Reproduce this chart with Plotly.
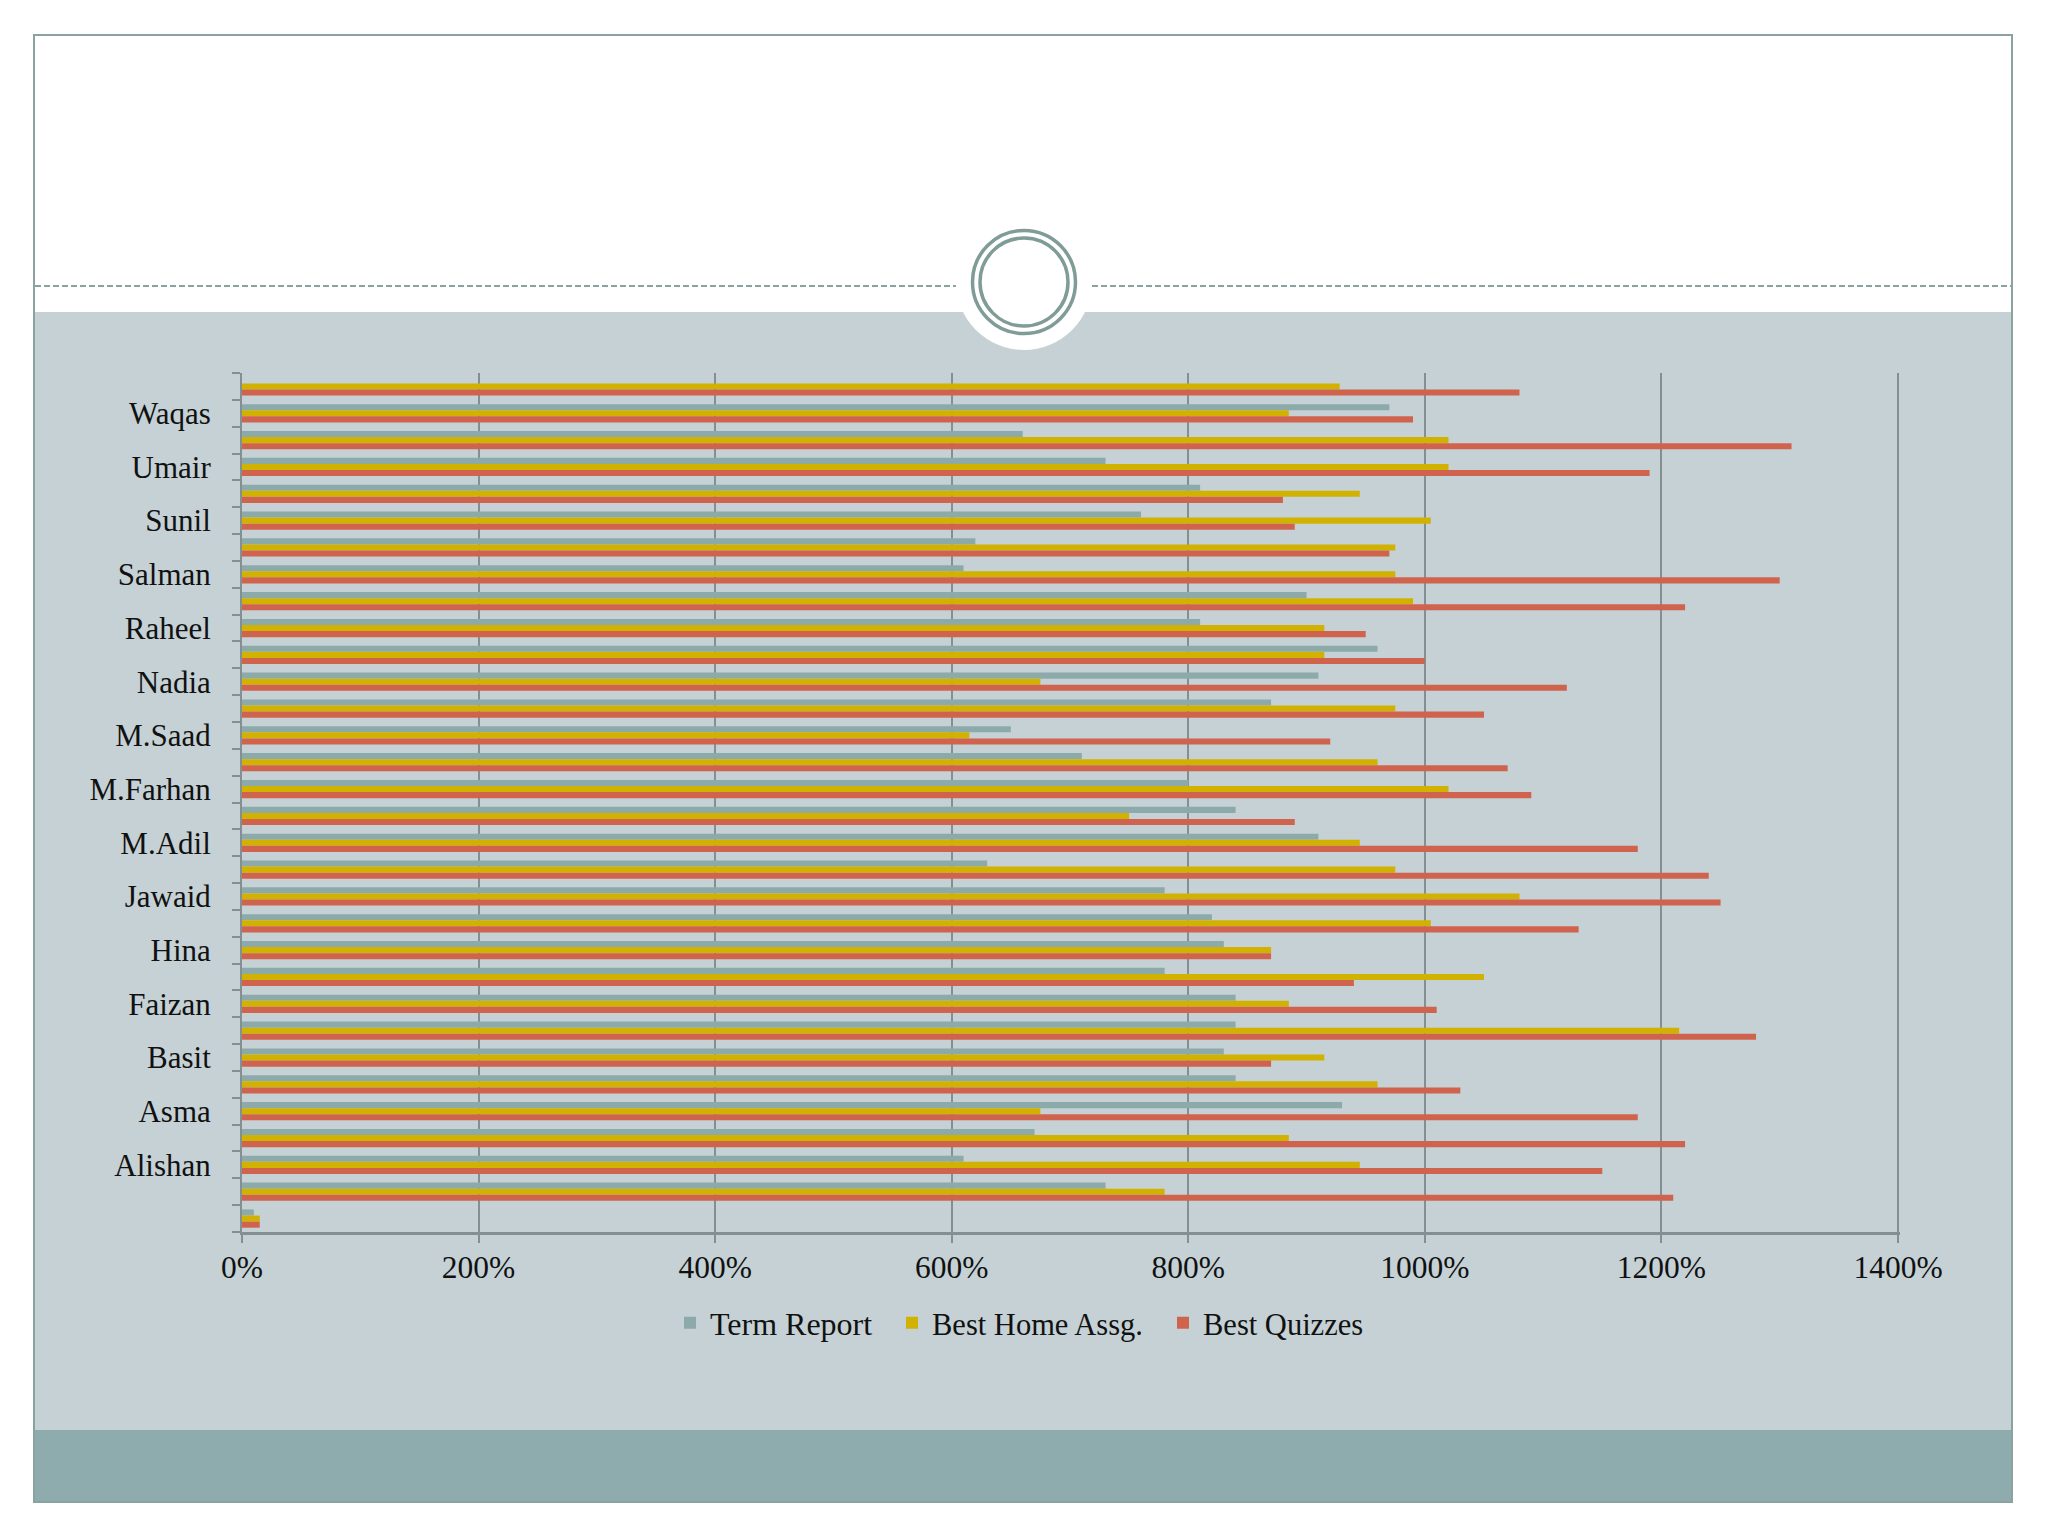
import plotly.graph_objects as go

categories = ["", "Waqas", "", "Umair", "", "Sunil", "", "Salman", "", "Raheel", "", "Nadia",
              "", "M.Saad", "", "M.Farhan", "", "M.Adil", "", "Jawaid", "", "Hina", "", "Faizan",
              "", "Basit", "", "Asma", "", "Alishan", "", ""]
term_report = [None, 970, 660, 730, 810, 760, 620, 610, 900, 810, 960, 910, 870, 650, 710, 800,
               840, 910, 630, 780, 820, 830, 780, 840, 840, 830, 840, 930, 670, 610, 730, 10]
best_home = [928, 885, 1020, 1020, 945, 1005, 975, 975, 990, 915, 915, 675, 975, 615, 960, 1020,
             750, 945, 975, 1080, 1005, 870, 1050, 885, 1215, 915, 960, 675, 885, 945, 780, 15]
best_quizzes = [1080, 990, 1310, 1190, 880, 890, 970, 1300, 1220, 950, 1000, 1120, 1050, 920, 1070, 1090,
                890, 1180, 1240, 1250, 1130, 870, 940, 1010, 1280, 870, 1030, 1180, 1220, 1150, 1210, 15]
x_ticks = [0, 200, 400, 600, 800, 1000, 1200, 1400]
x_labels = ["0%", "200%", "400%", "600%", "800%", "1000%", "1200%", "1400%"]

W, H = 2048, 1536
TEAL, YELLOW, RED = "#8DAAAB", "#D2B200", "#D0634D"
PANEL, BAND, EDGE, GRID = "#C5D1D5", "#8EABAE", "#8BA3A0", "#848F91"
RING = "#7F9C97"
FONT = "Liberation Serif"
FS_AXIS_X = 31.5
FS_AXIS_Y = 31

def rect(x0, y0, x1, y1, **kw):
    return dict(type="rect", xref="paper", yref="paper", x0=x0 / W, x1=x1 / W,
                y0=1 - y0 / H, y1=1 - y1 / H, layer="below", **kw)

def circle(cx, cy, r, **kw):
    return dict(type="circle", xref="paper", yref="paper", x0=(cx - r) / W, x1=(cx + r) / W,
                y0=1 - (cy + r) / H, y1=1 - (cy - r) / H, layer="below", **kw)

def hline(x0, x1, y, **kw):
    return dict(type="line", xref="paper", yref="paper", x0=x0 / W, x1=x1 / W,
                y0=1 - y / H, y1=1 - y / H, layer="below", **kw)

shapes = [
    rect(34, 312, 2012, 1502, fillcolor=PANEL, line_width=0),
    rect(34, 1430, 2012, 1502, fillcolor=BAND, line_width=0),
    rect(34, 35, 2012, 1502, fillcolor="rgba(0,0,0,0)", line=dict(color=EDGE, width=2)),
    circle(1024, 282, 68, fillcolor="white", line_width=0),
    hline(35, 956, 286, line=dict(color=EDGE, width=2, dash="6px,3px")),
    hline(1092, 2011, 286, line=dict(color=EDGE, width=2, dash="6px,3px")),
    circle(1024, 282, 51.5, fillcolor="white", line=dict(color=RING, width=3.5)),
    circle(1024, 282, 44, fillcolor="white", line=dict(color=RING, width=3.5)),
]

rows = list(range(len(categories)))
fig = go.Figure()
for name, vals, col, leg in [("Term Report", term_report, TEAL, "legend"),
                             ("Best Home Assg.", best_home, YELLOW, "legend2"),
                             ("Best Quizzes", best_quizzes, RED, "legend3")]:
    fig.add_trace(go.Bar(name=name, y=rows, x=vals, orientation="h", legend=leg,
                         marker=dict(color=col, line_width=0)))

def legend_at(px, size):
    return dict(orientation="h", x=px / W, y=1 - 1323 / H, xanchor="left", yanchor="middle",
                bgcolor="rgba(0,0,0,0)", font=dict(family=FONT, size=size), itemwidth=30)

AXIS_END = 1900  # just past the 1400% line so that its gridline is drawn
fig.update_layout(
    width=W, height=H, margin=dict(l=0, r=0, t=0, b=0, autoexpand=False),
    paper_bgcolor="white", plot_bgcolor="rgba(0,0,0,0)",
    barmode="group", bargap=0.32, bargroupgap=0,
    font=dict(family=FONT, size=31, color="#111111"),
    shapes=shapes,
    showlegend=True,
    legend=legend_at(670, 32), legend2=legend_at(892, 30.5), legend3=legend_at(1163, 30.5),
    xaxis=dict(domain=[242 / W, AXIS_END / W], range=[0, 1400 * (AXIS_END - 242) / 1656],
               tickmode="array", tickvals=x_ticks, ticktext=x_labels,
               showgrid=True, gridcolor=GRID, gridwidth=2, zeroline=False,
               showline=True, linecolor=GRID, linewidth=3,
               ticks="outside", ticklen=8, tickcolor=GRID, tickwidth=2, ticklabelstandoff=-3,
               tickfont=dict(family=FONT, size=FS_AXIS_X, color="#111111")),
    yaxis=dict(domain=[1 - 1232 / H, 1 - 373 / H], range=[31.5, -0.5],
               tickmode="array", tickvals=[i for i in rows if categories[i]],
               ticktext=[c for c in categories if c],
               showgrid=False, zeroline=False, showline=True, linecolor=GRID, linewidth=2,
               ticks="", ticklabelstandoff=23,
               tickfont=dict(family=FONT, size=FS_AXIS_Y, color="#111111"),
               minor=dict(tickvals=[i - 0.5 for i in rows] + [31.5], ticks="outside", ticklen=8,
                          tickcolor=GRID, tickwidth=2, showgrid=False)),
)
fig.write_html("out.html", config=dict(displayModeBar=False),
               post_script="document.body.style.margin='0';")
